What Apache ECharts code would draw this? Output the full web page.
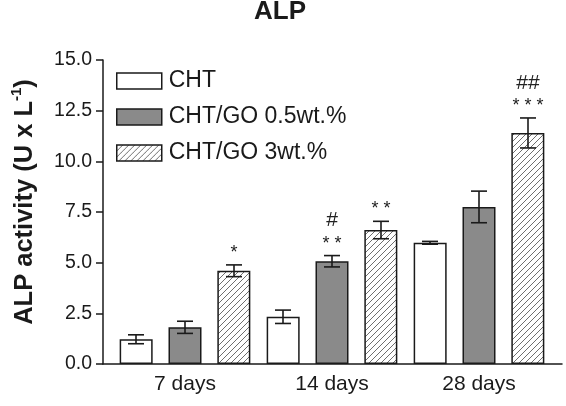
<!DOCTYPE html>
<html><head><meta charset="utf-8">
<script src="https://cdn.jsdelivr.net/npm/echarts@6/dist/echarts.min.js"></script>
<style>html,body{margin:0;padding:0;background:#fff}#c{width:566px;height:406px}</style>
</head><body><div id="c"></div>
<script>
const categories = ['7 days', '14 days', '28 days'];
const seriesNames = ['CHT', 'CHT/GO 0.5wt.%', 'CHT/GO 3wt.%'];
const valCHT = [1.22, 2.33, 5.98];
const valGO05 = [1.81, 5.07, 7.75];
const valGO3 = [4.60, 6.61, 11.40];
const errCHT = [0.22, 0.33, 0.07];
const errGO05 = [0.30, 0.28, 0.78];
const errGO3 = [0.29, 0.43, 0.74];
const starCHT = ['', '', ''];
const starGO05 = ['', '**', ''];
const starGO3 = ['*', '**', '***'];
const hashCHT = ['', '', ''];
const hashGO05 = ['', '#', ''];
const hashGO3 = ['', '', '##'];
const yTicks = [0, 2.5, 5, 7.5, 10, 12.5, 15];

const FONT = "'Liberation Sans', Arial, sans-serif";

// hatch pattern
const pc = document.createElement('canvas');
pc.width = 6; pc.height = 6;
const g = pc.getContext('2d');
g.fillStyle = '#fff'; g.fillRect(0, 0, 6, 6);
g.strokeStyle = '#4a4a4a'; g.lineWidth = 0.8;
g.beginPath();
g.moveTo(-1, 7); g.lineTo(7, -1);
g.moveTo(-1, 1); g.lineTo(1, -1);
g.moveTo(5, 7); g.lineTo(7, 5);
g.stroke();
const hatch = { image: pc, repeat: 'repeat' };

const fills = ['#ffffff', '#8a8a8a', hatch];
const vals = [valCHT, valGO05, valGO3];
const errs = [errCHT, errGO05, errGO3];
const stars = [starCHT, starGO05, starGO3];
const hashes = [hashCHT, hashGO05, hashGO3];

const BAR_W = 33, STEP = 49;

const chart = echarts.init(document.getElementById('c'), null, { renderer: 'canvas' });

const series = [];
seriesNames.forEach((n, i) => {
  series.push({
    name: n, type: 'bar', xAxisIndex: 1, yAxisIndex: 1,
    barWidth: BAR_W, barGap: '48%', z: 2,
    data: vals[i],
    itemStyle: { color: fills[i], borderColor: '#1a1a1a', borderWidth: 1.5 },
    emphasis: { disabled: true }, animation: false
  });
});
seriesNames.forEach((n, i) => {
  series.push({
    type: 'custom', xAxisIndex: 1, yAxisIndex: 1, animation: false, silent: true, z: 10,
    data: categories.map((c, k) => [k, vals[i][k], errs[i][k]]),
    renderItem: function (params, api) {
      const k = api.value(0), m = api.value(1), e = api.value(2);
      const top = api.coord([k, m + e]);
      const bot = api.coord([k, m - e]);
      const x = top[0] + (i - 1) * STEP;
      const hw = 8;
      const st = { stroke: '#1a1a1a', lineWidth: 1.6 };
      const children = [
        { type: 'line', shape: { x1: x, y1: top[1], x2: x, y2: bot[1] }, style: st },
        { type: 'line', shape: { x1: x - hw, y1: top[1], x2: x + hw, y2: top[1] }, style: st },
        { type: 'line', shape: { x1: x - hw, y1: bot[1], x2: x + hw, y2: bot[1] }, style: st }
      ];
      const s = stars[i][k], h = hashes[i][k];
      if (s) children.push({ type: 'text', style: { text: s.split('').join(' '), x: x, y: top[1] - 3, align: 'center', verticalAlign: 'bottom', font: '18px ' + FONT, fill: '#222' } });
      if (h) children.push({ type: 'text', style: { text: h, x: x, y: top[1] - 35, align: 'center', verticalAlign: 'middle', font: '21px ' + FONT, fill: '#222' } });
      return { type: 'group', children: children };
    }
  });
});

chart.setOption({
  animation: false,
  backgroundColor: '#fff',
  textStyle: { fontFamily: FONT },
  title: { text: 'ALP', left: 280, textAlign: 'center', top: -1, padding: 0,
    textStyle: { fontSize: 26, fontWeight: 'bold', color: '#1a1a1a', fontFamily: FONT } },
  legend: {
    orient: 'vertical', left: 116, top: 69.5, itemWidth: 45, itemHeight: 16, itemGap: 13,
    icon: 'rect', data: seriesNames, selectedMode: false, padding: 0,
    textStyle: { fontSize: 23, lineHeight: 22, color: '#1a1a1a', fontFamily: FONT, padding: [0, 0, 0, 2] },
    itemStyle: { borderColor: '#1a1a1a', borderWidth: 1.5 }
  },
  grid: [
    { left: 103, right: 4, top: 60, bottom: 42 },
    { left: 111.5, right: 13.5, top: 60, bottom: 42 }
  ],
  xAxis: [
    { type: 'value', gridIndex: 0, min: 0, max: 1, axisLine: { show: true, onZero: false, lineStyle: { color: '#1a1a1a', width: 1.5 } },
      axisTick: { show: false }, axisLabel: { show: false }, splitLine: { show: false } },
    { type: 'category', gridIndex: 1, data: categories, axisLine: { show: false }, axisTick: { show: false },
      axisLabel: { fontSize: 21, color: '#1a1a1a', margin: 10, fontFamily: FONT } }
  ],
  yAxis: [
    { type: 'value', gridIndex: 0, min: 0, max: 15, interval: 2.5,
      axisLine: { show: true, lineStyle: { color: '#1a1a1a', width: 1.5 } },
      axisTick: { show: true, length: 7, lineStyle: { color: '#1a1a1a', width: 1.5 } },
      axisLabel: { fontSize: 19.5, color: '#1a1a1a', margin: 11, fontFamily: FONT,
        formatter: v => yTicks.indexOf(v) >= 0 ? v.toFixed(1) : '' },
      splitLine: { show: false },
      name: '{a|ALP activity (U x L}{s|-1}{a|)}', nameLocation: 'middle', nameRotate: 90, nameGap: 62,
      nameTextStyle: { padding: [0, 0, 0, 20], rich: {
        a: { fontSize: 25.5, fontWeight: 'bold', color: '#1a1a1a', fontFamily: FONT, lineHeight: 32 },
        s: { fontSize: 15, fontWeight: 'bold', color: '#1a1a1a', fontFamily: FONT, verticalAlign: 'top', lineHeight: 15 }
      } }
    },
    { type: 'value', gridIndex: 1, min: 0, max: 15, interval: 2.5, show: false }
  ],
  series: series
});
</script></body></html>
